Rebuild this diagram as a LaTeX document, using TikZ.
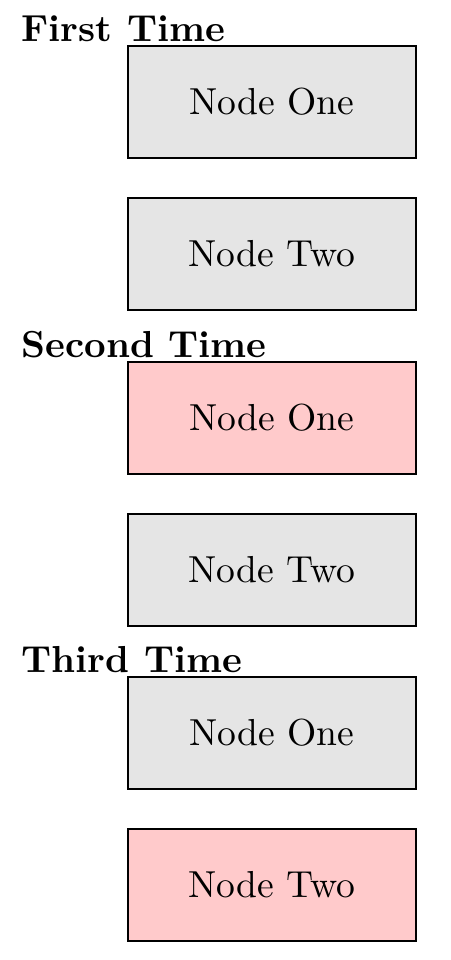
\documentclass[tikz,border=0pt]{standalone}
\definecolor{boxgray}{RGB}{229,229,229}
\definecolor{boxpink}{RGB}{255,202,203}
\begin{document}
\begin{tikzpicture}[x=0.266pt,y=-0.266pt,
  box/.style={draw, line width=0.4pt, fill=boxgray, minimum width=76.6pt, minimum height=29.8pt,
    anchor=north west, inner sep=0pt, outer sep=0pt},
  hot/.style={fill=boxpink},
  title/.style={anchor=base west, inner sep=0pt, font=\bfseries}]
\useasboundingbox (0,0) rectangle (450,960);
% First time
\node[title] (t1) at (21,41.5) {First Time};
\node[box] (a1) at (128,46) {Node One};
\node[box] (b1) at (128,198) {Node Two};
% Second time
\node[title] (t2) at (21,357) {Second Time};
\node[box,hot] (a2) at (128,362) {Node One};
\node[box] (b2) at (128,514) {Node Two};
% Third time
\node[title] (t3) at (21,672.5) {Third Time};
\node[box] (a3) at (128,677) {Node One};
\node[box,hot] (b3) at (128,829) {Node Two};
\end{tikzpicture}
\end{document}
